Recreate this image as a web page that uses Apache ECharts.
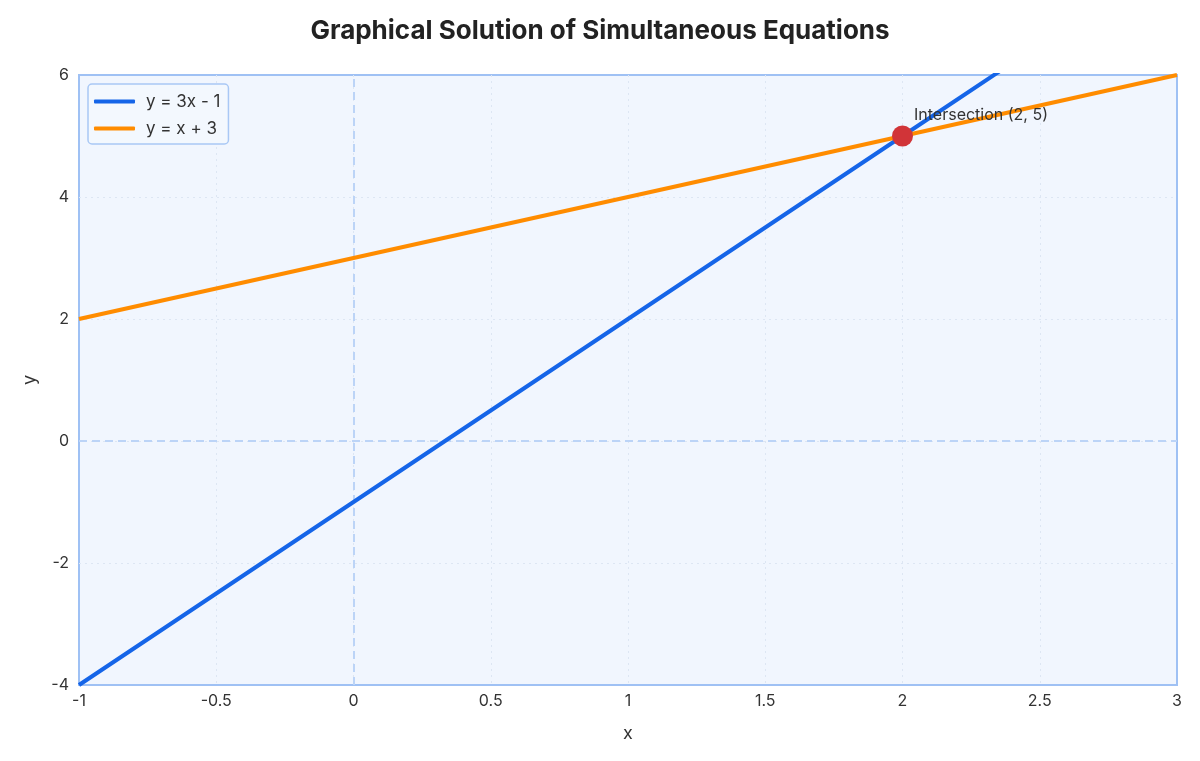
<!DOCTYPE html>
<html><head><meta charset="utf-8">
<script src="https://cdn.jsdelivr.net/npm/echarts@6/dist/echarts.min.js"></script>
<style>html,body{margin:0;padding:0;background:#fff}#c{width:1200px;height:761px}</style>
</head><body><div id="c"></div>
<script>
const xValues = [-1, 0, 1, 2, 3];
const line1 = [-4, -1, 2, 5, 8];   // y = 3x - 1
const line2 = [2, 3, 4, 5, 6];     // y = x + 3
const intersection = [2, 5];
const xTicks = [-1, -0.5, 0, 0.5, 1, 1.5, 2, 2.5, 3];
const yTicks = [-4, -2, 0, 2, 4, 6];

const FONT = 'Inter';
const chart = echarts.init(document.getElementById('c'));
chart.setOption({
  backgroundColor: '#ffffff',
  textStyle: { fontFamily: FONT },
  title: {
    text: 'Graphical Solution of Simultaneous Equations',
    left: 'center', top: 13,
    textStyle: { fontFamily: FONT, fontSize: 26, fontWeight: 'bold', color: '#222' }
  },
  legend: {
    left: 88, top: 84, orient: 'vertical', itemGap: 10,
    itemWidth: 41, itemHeight: 4,
    backgroundColor: '#f3f8fe', borderColor: '#a9c8f5', borderWidth: 1.5, borderRadius: 4,
    padding: [9, 8, 7, 6],
    textStyle: { fontFamily: FONT, fontSize: 17, color: '#333', padding: [0, 0, 0, 6] },
    data: [
      { name: 'y = 3x - 1', icon: 'roundRect' },
      { name: 'y = x + 3', icon: 'roundRect' }
    ]
  },
  grid: { left: 79, right: 23, top: 75, bottom: 76, show: true, backgroundColor: '#f1f6fe', borderColor: '#9fc1f4', borderWidth: 2 },
  xAxis: {
    type: 'value', min: -1, max: 3, interval: 0.5,
    name: 'x', nameLocation: 'middle', nameGap: 40,
    nameTextStyle: { fontFamily: FONT, fontSize: 18, color: '#333' },
    axisLine: { show: false }, axisTick: { show: false },
    axisLabel: { fontFamily: FONT, fontSize: 16, color: '#333', margin: 8 },
    splitLine: { show: true, showMinLine: false, showMaxLine: false, lineStyle: { color: '#dde6f3', type: [2, 4], width: 1 } }
  },
  yAxis: {
    type: 'value', min: -4, max: 6, interval: 2,
    name: 'y', nameLocation: 'middle', nameGap: 40,
    nameTextStyle: { fontFamily: FONT, fontSize: 18, color: '#333' },
    axisLine: { show: false }, axisTick: { show: false },
    axisLabel: { fontFamily: FONT, fontSize: 16, color: '#333', margin: 10 },
    splitLine: { show: true, showMinLine: false, showMaxLine: false, lineStyle: { color: '#dde6f3', type: [2, 4], width: 1 } }
  },
  series: [
    {
      name: 'y = 3x - 1', type: 'line', showSymbol: false, clip: true,
      color: '#1565e8',
      lineStyle: { width: 4, color: '#1565e8' },
      data: xValues.map((x, i) => [x, line1[i]]),
      z: 3,
      markLine: {
        silent: true, symbol: 'none', label: { show: false },
        lineStyle: { color: '#bcd4f7', type: [8, 5], width: 2 },
        data: [{ xAxis: 0 }, { yAxis: 0 }],
        z: 1
      }
    },
    {
      name: 'y = x + 3', type: 'line', showSymbol: false, clip: true,
      color: '#ff8c00',
      lineStyle: { width: 4, color: '#ff8c00' },
      data: xValues.map((x, i) => [x, line2[i]]),
      z: 3
    },
    {
      name: 'Intersection', type: 'scatter', symbolSize: 21,
      itemStyle: { color: '#d13438', opacity: 1 },
      data: [intersection],
      z: 5,
      label: {
        show: true, position: 'right', offset: [-4, -21],
        formatter: () => 'Intersection (' + intersection[0] + ', ' + intersection[1] + ')',
        fontFamily: FONT, fontSize: 16, color: '#333'
      }
    }
  ]
});
</script></body></html>
